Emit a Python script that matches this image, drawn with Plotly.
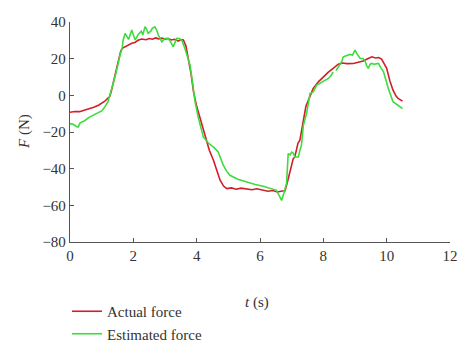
import plotly.graph_objects as go

# Actual force (red)
t_actual = [0.0, 0.15, 0.3, 0.45, 0.6, 0.75, 0.9, 1.0, 1.1, 1.2, 1.25, 1.3, 1.4, 1.5, 1.6, 1.65,
            1.75, 1.85, 1.95, 2.05, 2.15, 2.26, 2.4, 2.5, 2.6, 2.7, 2.8, 2.9, 3.0, 3.1, 3.2, 3.3,
            3.42, 3.5, 3.58, 3.66, 3.74, 3.82, 3.9, 4.0, 4.1, 4.21, 4.3, 4.4, 4.53, 4.63, 4.74,
            4.85, 4.95, 5.1, 5.25, 5.4, 5.58, 5.75, 5.9, 6.1, 6.25, 6.4, 6.55, 6.7, 6.79, 6.87,
            6.95, 7.05, 7.1, 7.2, 7.26, 7.37, 7.45, 7.53, 7.68, 7.85, 8.0, 8.15, 8.31, 8.47, 8.6,
            8.75, 8.95, 9.1, 9.26, 9.4, 9.53, 9.65, 9.75, 9.84, 9.92, 10.0, 10.1, 10.2, 10.3,
            10.36, 10.45, 10.5]
f_actual = [-9.2, -8.8, -8.9, -8.1, -7.6, -6.5, -5.4, -4.5, -3.2, -1.5, -0.8, 2, 9, 17, 24, 25.6,
            26.5, 27.5, 28.4, 28.8, 30, 30.7, 30.3, 31, 30.6, 31.3, 30.8, 31.2, 30.6, 31, 30.2, 30.6,
            29.6, 30.4, 30.2, 27, 20, 12, 2, -6, -12, -19, -25, -30, -35.4, -41, -46.3,
            -49.5, -50.9, -50.5, -51.2, -50.6, -50.9, -51.5, -51, -51.8, -52.3, -51.9, -52.7, -52.2, -52, -47,
            -41, -34.5, -33.6, -26, -24.5, -12.6, -6, -2.6, 3.8, 7.5, 10.1, 12.5, 14.7, 17, 17.6,
            17.3, 17.4, 17.9, 18.7, 20, 21, 20.4, 20.6, 19.8, 17.5, 14.7, 8, 2.8, -0.5,
            -1.7, -2.6, -3.2]

# Estimated force (green)
t_est = [0.0, 0.1, 0.2, 0.26, 0.32, 0.45, 0.6, 0.75, 0.9, 1.0, 1.1, 1.2, 1.32, 1.45, 1.58, 1.65,
         1.68, 1.74, 1.8, 1.85, 1.9, 1.95, 2.0, 2.06, 2.15, 2.25, 2.3, 2.37, 2.42, 2.47, 2.55, 2.6,
         2.68, 2.74, 2.79, 2.85, 2.9, 3.0, 3.1, 3.18, 3.26, 3.32, 3.37, 3.45, 3.53, 3.63, 3.7,
         3.79, 3.87, 3.95, 4.05, 4.21, 4.37, 4.55, 4.68, 4.76, 4.84, 4.95, 5.05, 5.3, 5.58, 5.85,
         6.1, 6.3, 6.52, 6.6, 6.68, 6.76, 6.84, 6.89, 6.95, 7.0, 7.05, 7.1, 7.21, 7.26, 7.31,
         7.37, 7.47, 7.58, 7.68, 7.79, 7.89, 8.05, 8.16, 8.25, 8.31, 8.36, 8.4, 8.5, 8.58, 8.63,
         8.7, 8.84, 8.92, 9.0, 9.05, 9.1, 9.16, 9.25, 9.31, 9.37, 9.42, 9.48, 9.53, 9.6, 9.74,
         9.82, 9.9, 10.0, 10.05, 10.2, 10.35, 10.5]
f_est = [-15.4, -15.8, -17, -17.3, -15, -14, -12, -10.8, -9.5, -8.5, -6.3, -3.5, 3.8, 12, 22, 26,
         30.2, 33.8, 32, 30.5, 33, 35.6, 33, 30.2, 33, 35, 33, 37.4, 36, 33.8, 35, 36.5,
         37.4, 35.5, 32.9, 31, 29.2, 31, 31.1, 29, 26.5, 29, 31.1, 31, 30, 25.6, 21,
         16.5, 7, -3.5, -12, -22.7, -26, -28.5, -30.9, -35, -38.1, -41.5, -43.6, -45.8, -47.3, -48.6,
         -49.6, -50.6, -51.8, -54.5, -57.3, -53, -48, -31.8, -32.5, -31, -31.5, -33.6, -33.6, -30, -27.2,
         -16.3, -10, 1, 1.9, 5.6, 6.5, 8, 9.2, 11, 12.8, None, 13.5, 16, 18.3, 21,
         21.5, 22.3, 22, 24.7, 23, 21.5, 20.2, 20, 19.2, 16, 14.7, 17, 17.4, 17, 17.4,
         15, 12.8, 7, 3.8, -3.5, -5.5, -7.2]

x_ticks = [0, 2, 4, 6, 8, 10, 12]
y_ticks = [-80, -60, -40, -20, 0, 20, 40]

FONT = "Liberation Serif"
AXIS_COLOR = "#555555"
W, H = 474, 353

fig = go.Figure()
fig.add_trace(go.Scatter(x=t_actual, y=f_actual, mode="lines", name="Actual force",
                         line=dict(color="#d01f2a", width=1.6)))
fig.add_trace(go.Scatter(x=t_est, y=f_est, mode="lines", name="Estimated force",
                         line=dict(color="#3ddc3d", width=1.6), connectgaps=False))

axis_common = dict(showgrid=False, zeroline=False, showline=True, linecolor=AXIS_COLOR,
                   linewidth=1.3, ticks="inside", ticklen=4, tickcolor=AXIS_COLOR, tickwidth=1.2,
                   tickfont=dict(family=FONT, size=15, color="#333333"))

fig.update_layout(
    width=W, height=H,
    margin=dict(l=70, r=24, t=22, b=111, autoexpand=False),
    plot_bgcolor="white", paper_bgcolor="white",
    xaxis=dict(range=[0, 12], tickvals=x_ticks, **axis_common),
    yaxis=dict(range=[-80, 40], tickvals=y_ticks, **axis_common),
    showlegend=True,
    legend=dict(xref="container", yref="container", x=67 / W, y=1 - 295 / H,
                xanchor="left", yanchor="top",
                font=dict(family=FONT, size=15, color="#333333"),
                bgcolor="rgba(0,0,0,0)", tracegroupgap=0, itemwidth=30),
    annotations=[
        dict(text="<i>t</i> (s)", xref="paper", yref="paper", x=(257 - 70) / 380,
             y=-(302 - 242) / 220, xanchor="center", yanchor="middle", showarrow=False,
             font=dict(family=FONT, size=15, color="#333333")),
        dict(text="<i>F</i> (N)", xref="paper", yref="paper", x=-(70 - 24) / 380,
             y=(242 - 132) / 220, xanchor="center", yanchor="middle", showarrow=False,
             textangle=-90, font=dict(family=FONT, size=15, color="#333333")),
    ],
)

fig.write_html("out.html")
